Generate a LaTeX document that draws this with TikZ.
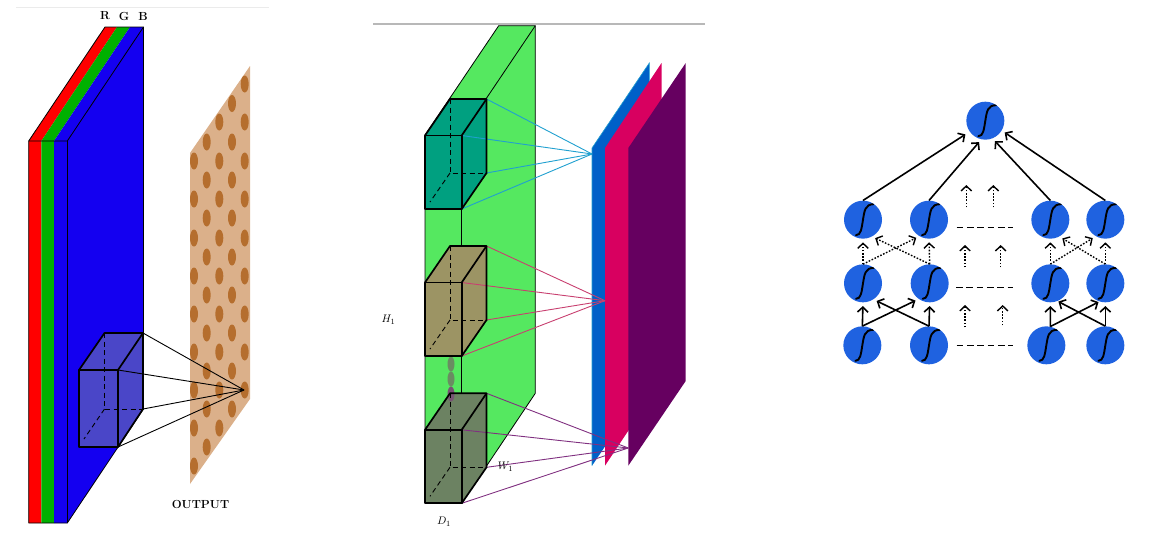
\documentclass[tikz,border=0pt]{standalone}
\usetikzlibrary{arrows.meta}
\definecolor{cRed}{HTML}{FF0000}
\definecolor{cGreen}{HTML}{00B000}
\definecolor{cBlue}{HTML}{1400F0}
\definecolor{cCubeA}{HTML}{4A46C8}
\definecolor{cTan}{HTML}{DBB08A}
\definecolor{cDot}{HTML}{B56E2E}
\definecolor{cLime}{HTML}{55E860}
\definecolor{cTeal}{HTML}{00A080}
\definecolor{cOlive}{HTML}{9C9464}
\definecolor{cSage}{HTML}{6C8262}
\definecolor{pBlue}{HTML}{0060C8}
\definecolor{pPink}{HTML}{D80060}
\definecolor{pPurple}{HTML}{660060}
\definecolor{lBlue}{HTML}{20A0D0}
\definecolor{lPink}{HTML}{C84070}
\definecolor{lPurple}{HTML}{803080}
\definecolor{cNeuron}{HTML}{1F62E0}
\tikzset{
  slab/.style={draw=black,line width=0.8pt,line join=round},
  cubeedge/.style={draw=black,line width=1.7pt,line join=round},
  cubedash/.style={draw=black,line width=0.9pt,dash pattern=on 5pt off 3.5pt},
  ray/.style={line width=0.9pt},
  dotmark/.style={fill=cDot},
  neuron/.style={circle,fill=cNeuron,inner sep=0pt,minimum size=38pt,
    path picture={\draw[shift={(path picture bounding box.center)},black,line width=1.9pt,line cap=round]
      (-7pt,-15.5pt) .. controls (-2pt,-15.5pt) and (-1.5pt,-9pt) .. (0pt,0pt)
      .. controls (1.5pt,9pt) and (2pt,15.5pt) .. (11pt,15.5pt);}},
  solidarrow/.style={line width=1.6pt,-{Straight Barb[length=5pt,width=10.5pt,line width=1.6pt]},shorten >=3.5pt},
  dotarrow/.style={line width=1.4pt,dash pattern=on 1.6pt off 1.6pt,-{Straight Barb[length=5pt,width=10.5pt,line width=1.4pt]},shorten >=3.5pt},
  freedot/.style={line width=1.4pt,dash pattern=on 1.6pt off 1.6pt,-{Straight Barb[length=5pt,width=10.5pt,line width=1.4pt]}},
  levdash/.style={line width=1.5pt,dash pattern=on 6.7pt off 3.6pt},
  lab/.style={inner sep=0pt,font=\fontsize{11}{13}\selectfont},
  blab/.style={inner sep=0pt,font=\fontsize{11.7}{14}\selectfont\bfseries}
}
\begin{document}
\begin{tikzpicture}[x=1pt,y=-1pt]
\useasboundingbox (0,0) rectangle (1161,546);
% faint rules
\draw[black!8,line width=1pt] (16,7) -- (269,7);
\draw[black!28,line width=2.5pt] (373,24) -- (705,24);

% ---------- LEFT: RGB volume ----------
\fill[cRed] (28.7,141) -- (105,27) -- (117,27) -- (41.3,141) -- (41.3,523) -- (28.7,523) -- cycle;
\fill[cGreen] (41.3,141) -- (117,27) -- (130,27) -- (54,141) -- (54,523) -- (41.3,523) -- cycle;
\fill[cBlue] (54,141) -- (130,27) -- (143.5,27) -- (143.5,409) -- (67.3,523) -- (54,523) -- cycle;
\draw[slab] (28.7,523) -- (28.7,141) -- (105,27) -- (143.5,27) -- (143.5,409) -- (67.3,523) -- cycle;
\draw[slab] (28.7,141) -- (67.3,141) -- (143.5,27);
\draw[slab] (67.3,141) -- (67.3,523);
\node[blab] (labR) at (105,16) {R};
\node[blab] (labG) at (124,16) {G};
\node[blab] (labB) at (143,16) {B};
% output sheet
\fill[cTan] (190,153) -- (250,66) -- (250,399) -- (190,484) -- cycle;
\foreach \y in {84,122,161,199,238,276,314,352,390} \fill[dotmark] (244.7,\y) ellipse (4 and 8.5);
\foreach \y in {103.5,142,180,218,257,295,333,371,409} \fill[dotmark] (232,\y) ellipse (4 and 8.5);
\foreach \y in {122,161,199,238,276,314,352,390,428} \fill[dotmark] (219.3,\y) ellipse (4 and 8.5);
\foreach \y in {142,180,218,257,295,333,371,409,447} \fill[dotmark] (206.7,\y) ellipse (4 and 8.5);
\foreach \y in {161,199,238,276,314,352,390,428,466} \fill[dotmark] (194,\y) ellipse (4 and 8.5);
\node[blab] (labOut) at (200.5,504) {OUTPUT};
% cube
\fill[cCubeA] (79,370) -- (104.5,333) -- (143,333) -- (143,409) -- (118,447) -- (79,447) -- cycle;
\coordinate (fa) at (244,390);
\foreach \p in {(143,333),(118,370),(143,409),(118,447)} \draw[black,ray] \p -- (fa);
\draw[cubedash] (104.5,333) -- (104.5,409) -- (143,409);
\draw[cubedash] (104.5,409) -- (84,439);
\draw[cubeedge] (79,370) -- (118,370) -- (118,447) -- (79,447) -- cycle;
\draw[cubeedge] (79,370) -- (104.5,333) -- (143,333) -- (143,409) -- (118,447);
\draw[cubeedge] (118,370) -- (143,333);

% ---------- MIDDLE ----------
\fill[cLime] (425,135) -- (498.7,25.7) -- (535.3,25.7) -- (535.3,393.3) -- (461.7,503) -- (425,503) -- cycle;
\draw[slab] (425,503) -- (425,135) -- (498.7,25.7) -- (535.3,25.7) -- (535.3,393.3) -- (461.7,503) -- cycle;
\draw[slab] (425,135) -- (461.7,135) -- (535.3,25.7);
\draw[slab] (461.7,135) -- (461.7,503);
% planes
\fill[pBlue] (592,148) -- (649.3,63) -- (649.3,381) -- (592,465.7) -- cycle;
\draw[lBlue,line width=0.6pt] (592,465.7) -- (592,148) -- (649.3,63) -- (649.3,100);
\fill[pPink] (605,148) -- (661.5,63) -- (661.5,381) -- (605,465.7) -- cycle;
\fill[pPurple] (628.3,148) -- (685.7,63) -- (685.7,381) -- (628.3,465.7) -- cycle;
% cubes and rays
\foreach \o/\c/\ty/\px/\py in {0/cTeal/lBlue/592/154,147/cOlive/lPink/605/300.7,294.3/cSage/lPurple/628.3/448}{
  \fill[\c] (425,135.5+\o) -- (450,99+\o) -- (486.5,99+\o) -- (486.5,173+\o) -- (461.7,209+\o) -- (425,209+\o) -- cycle;
  \foreach \a/\b in {486.5/99,461.7/135.5,486.5/173,461.7/209}
    \draw[\ty,ray] (\a,\b+\o) -- (\px,\py);
}
\foreach \y in {364,379} \fill[cSage!90!cLime] (451,\y) ellipse (3.5 and 7.5);
\fill[lPurple!60!cSage] (451,394) ellipse (3.5 and 7.5);
\foreach \o in {0,147,294.3}{
  \draw[cubedash] (450,99+\o) -- (450,173+\o) -- (486.5,173+\o);
  \draw[cubedash] (450,173+\o) -- (430,202+\o);
  \draw[cubeedge] (425,135.5+\o) -- (461.7,135.5+\o) -- (461.7,209+\o) -- (425,209+\o) -- cycle;
  \draw[cubeedge] (425,135.5+\o) -- (450,99+\o) -- (486.5,99+\o) -- (486.5,173+\o) -- (461.7,209+\o);
  \draw[cubeedge] (461.7,135.5+\o) -- (486.5,99+\o);
}
\node[lab] (labH) at (388.5,320) {$H_1$};
\node[lab] (labW) at (505.5,467) {$W_1$};
\node[lab] (labD) at (444,522) {$D_1$};

% ---------- RIGHT: network ----------
\begin{scope}[shift={(830,90)},x=0.33333pt,y=-0.33333pt]
\node[neuron] (top) at (466,92) {};
\node[neuron] (c1) at (99,389) {};
\node[neuron] (c2) at (297,389) {};
\node[neuron] (c3) at (661,389) {};
\node[neuron] (c4) at (826,389) {};
\node[neuron] (b1) at (99,580) {};
\node[neuron] (b2) at (299,580) {};
\node[neuron] (b3) at (661,580) {};
\node[neuron] (b4) at (826,580) {};
\node[neuron] (a1) at (97,766) {};
\node[neuron] (a2) at (297,766) {};
\node[neuron] (a3) at (649,766) {};
\node[neuron] (a4) at (826,766) {};
% to top
\draw[solidarrow,shorten >=5pt] (c1.north) -- (top.215);
\draw[solidarrow] (c2.north) -- (top.258);
\draw[solidarrow] (c3.north) -- (top.292);
\draw[solidarrow] (c4.north) -- (top.329);
% dotted level
\draw[dotarrow] (b1.north) -- (c1.south);
\draw[dotarrow] (b2.north) -- (c2.south);
\draw[dotarrow] (b1.north) -- (c2.240);
\draw[dotarrow] (b2.north) -- (c1.298);
\draw[dotarrow] (b3.north) -- (c3.south);
\draw[dotarrow] (b4.north) -- (c4.south);
\draw[dotarrow] (b3.north) -- (c4.240);
\draw[dotarrow] (b4.north) -- (c3.298);
% solid level
\draw[solidarrow] (a1.north) -- (b1.south);
\draw[solidarrow] (a2.north) -- (b2.south);
\draw[solidarrow] (a1.north) -- (b2.235);
\draw[solidarrow] (a2.north) -- (b1.303);
\draw[solidarrow] (a3.78) -- (b3.south);
\draw[solidarrow] (a4.north) -- (b4.south);
\draw[solidarrow,shorten >=1pt] (a3.78) -- (b4.252);
\draw[solidarrow,shorten >=1pt] (a4.north) -- (b3.292);
% free arrows
\foreach \n/\xa/\ya/\yb in {p/409/352/285,q/490/352/285,r/405/532/465,s/512/532/465,t/405/712/645,u/518/706/645}{
  \coordinate (\n0) at (\xa,\ya);
  \coordinate (\n1) at (\xa,\yb);
  \draw[freedot] (\n0) -- (\n1);
}
% dashed levels
\coordinate (d1a) at (380,413); \coordinate (d1b) at (550,413);
\coordinate (d2a) at (378,592); \coordinate (d2b) at (548,592);
\coordinate (d3a) at (380,767); \coordinate (d3b) at (550,767);
\draw[levdash] (d1a) -- (d1b);
\draw[levdash] (d2a) -- (d2b);
\draw[levdash] (d3a) -- (d3b);
\end{scope}
\end{tikzpicture}
\end{document}
